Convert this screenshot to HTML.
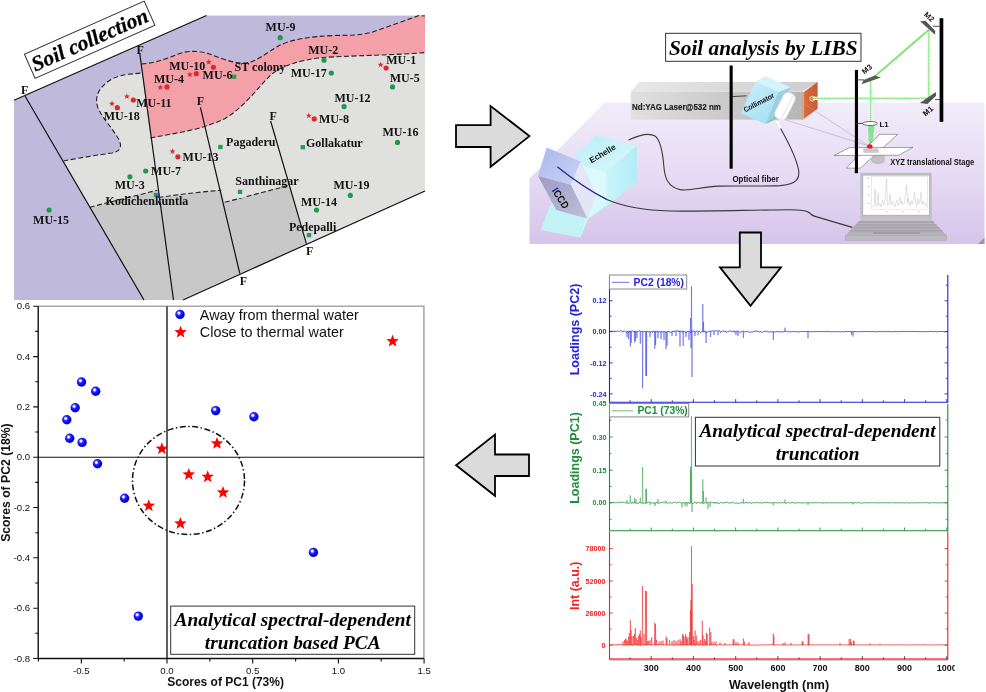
<!DOCTYPE html>
<html lang="en"><head><meta charset="utf-8"><title>Graphical abstract</title>
<style>
html,body{margin:0;padding:0;background:#fff;}
body{width:986px;height:692px;overflow:hidden;font-family:"Liberation Sans",sans-serif;}
svg{display:block;}
svg text{white-space:pre;}
</style></head><body>
<svg width="986" height="692" viewBox="0 0 986 692">
<rect width="986" height="692" fill="#ffffff"/>
<!-- LIBS setup -->
<defs>
<linearGradient id="plat" x1="0" y1="0" x2="0" y2="1"><stop offset="0" stop-color="#f1ecf9"/><stop offset="0.5" stop-color="#e6dcf4"/><stop offset="1" stop-color="#d6c4ea"/></linearGradient>
<linearGradient id="lasf" x1="0" y1="0" x2="1" y2="0"><stop offset="0" stop-color="#e0e0e0"/><stop offset="0.55" stop-color="#cacaca"/><stop offset="1" stop-color="#b6b6b6"/></linearGradient><linearGradient id="last" x1="0" y1="0" x2="1" y2="0"><stop offset="0" stop-color="#e8e8e8"/><stop offset="1" stop-color="#cdcdcd"/></linearGradient>
<linearGradient id="lasf2" x1="0" y1="0" x2="1" y2="0"><stop offset="0" stop-color="#cfcfcf"/><stop offset="1" stop-color="#b4b4b4"/></linearGradient>
<linearGradient id="colf" x1="0" y1="0" x2="0.6" y2="1"><stop offset="0" stop-color="#c8f0fa"/><stop offset="1" stop-color="#a8e0f2"/></linearGradient>
<linearGradient id="echt" x1="0" y1="0" x2="1" y2="1"><stop offset="0" stop-color="#bdeef8"/><stop offset="1" stop-color="#d6f8fb"/></linearGradient>
<linearGradient id="echs" x1="0" y1="0" x2="1" y2="0"><stop offset="0" stop-color="#c8f6fa"/><stop offset="1" stop-color="#b2ecf6"/></linearGradient>
<linearGradient id="iccdt" x1="0" y1="0" x2="1" y2="1"><stop offset="0" stop-color="#a9b8ee"/><stop offset="1" stop-color="#cdd2f2"/></linearGradient>
<linearGradient id="iccdf" x1="0" y1="0" x2="1" y2="1"><stop offset="0" stop-color="#9c9cc4"/><stop offset="1" stop-color="#c0c0d8"/></linearGradient>
<linearGradient id="org" x1="0" y1="0" x2="1" y2="0"><stop offset="0" stop-color="#f08a52"/><stop offset="0.2" stop-color="#d8683a"/><stop offset="1" stop-color="#c85a34"/></linearGradient>
</defs>
<polygon points="604.8,102.5 984.5,102.5 984.5,244 529.5,244 529.5,178.5" fill="url(#plat)"/>
<polygon points="984.5,237.6 984.5,244 978,244" fill="#9a96a4"/>
<polygon points="630.8,91.3 639.3,82 817.6,82 803,91.3" fill="url(#last)"/>
<rect x="630.8" y="91" width="172.4" height="28.6" fill="url(#lasf)"/>

<path d="M630.8,91.3 H803" stroke="#ececec" stroke-width="0.8" fill="none"/>
<text x="632" y="109.6" font-family="'Liberation Sans', sans-serif" font-weight="bold" font-size="9.6px" fill="#222" textLength="89" lengthAdjust="spacingAndGlyphs" stroke="#222" stroke-width="0.2">Nd:YAG Laser@532 nm</text>
<polygon points="802.6,93 817.6,81.8 817.6,108.7 802.6,119.8" fill="url(#org)"/>
<path d="M803.2,93 V119.6" stroke="#f6a878" stroke-width="1"/>
<circle cx="812.4" cy="98.7" r="2.5" fill="#d86a3c" stroke="#f4e6b0" stroke-width="0.9"/>
<path d="M794,97.3 L868.7,145.8 M784.5,119.6 L868.7,145.8" stroke="#aaa6b8" stroke-width="0.55" fill="none"/>
<path d="M812.6,98.4 H928.8 V29.8 L874.6,76.4 M870.7,80.6 V122" fill="none" stroke="#f8f5dc" stroke-width="3.4" stroke-linejoin="round"/>
<path d="M812.6,98.4 H928.8 V29.8 M870.6,80.6 V122" fill="none" stroke="#74e684" stroke-width="1.3" stroke-dasharray="1.4 0.5"/>
<path d="M928.8,29.8 L874.6,76.4" fill="none" stroke="#4ee862" stroke-width="1.3"/>
<polygon points="866.8,125.4 875.6,125.4 873.2,145 868,145" fill="#f1f0dc"/>
<polygon points="867.9,125.4 874.6,125.4 872.4,145 868.8,145" fill="#86e296"/>
<rect x="729.6" y="65.5" width="3.1" height="103.2" fill="#000"/>
<rect x="854.9" y="69.9" width="3.1" height="103.2" fill="#000"/>
<rect x="939.6" y="18.2" width="3.7" height="103.6" fill="#000"/>
<path d="M856,79.9 H864 M933,26.3 H941 M935,99.6 H941 M856,123.4 H863 M732,96.6 L746.5,95.8" stroke="#222" stroke-width="0.8" fill="none"/>
<polygon points="920.2,21.2 925.5,20.7 935.3,31 934.9,34.8" fill="#555"/>
<polygon points="861.6,84.2 863.5,79.9 874.8,75.5 881,77.4" fill="#5a5a5a"/>
<polygon points="919.9,103 935.8,92.1 936.2,95.8 927.4,103.9" fill="#555"/>
<text transform="translate(923.5,15.2) rotate(42)" font-family="'Liberation Sans', sans-serif" font-weight="bold" font-size="7.6px" fill="#111">M2</text>
<text transform="translate(864.6,74.6) rotate(-40)" font-family="'Liberation Sans', sans-serif" font-weight="bold" font-size="7.6px" fill="#111">M3</text>
<text transform="translate(925.6,116.4) rotate(-40)" font-family="'Liberation Sans', sans-serif" font-weight="bold" font-size="7.6px" fill="#111">M1</text>
<ellipse cx="870" cy="123.5" rx="7.3" ry="2" fill="#fff" stroke="#333" stroke-width="0.7"/>
<text x="879.4" y="126.8" font-family="'Liberation Sans', sans-serif" font-weight="bold" font-size="7.8px" fill="#111">L1</text>
<ellipse cx="878" cy="160.6" rx="6.8" ry="3.6" fill="#c4c0c8"/>
<rect x="871.2" y="155" width="13.6" height="5.6" fill="#c4c0c8"/>
<polygon points="879.6,134.3 897.8,134.3 860.4,168.1 846.2,168.1" fill="#fff" stroke="#666" stroke-width="0.6"/>
<polygon points="834,155.5 849.2,147.7 913,147.4 898.8,155.2" fill="#fff" stroke="#666" stroke-width="0.6"/>
<rect x="863.4" y="148.4" width="15.2" height="4.4" fill="#c9c6cc"/>
<rect x="854.9" y="140" width="3.1" height="33.1" fill="#000"/>
<ellipse cx="869.9" cy="146.4" rx="2.7" ry="2.2" fill="#f01020"/>
<text x="890.3" y="164.6" font-family="'Liberation Sans', sans-serif" font-weight="bold" font-size="8.8px" fill="#111" textLength="84" lengthAdjust="spacingAndGlyphs">XYZ translational Stage</text>
<polygon points="755.3,81.7 765.6,76.1 790.6,87.4 778.4,92.2" fill="#d4f4fb"/>
<polygon points="778.4,92.2 790.6,87.4 777.2,118.4 765.6,123.9" fill="#9ccfe0"/>
<polygon points="755.3,81.7 778.4,92.2 765.6,123.9 740.7,113.5" fill="url(#colf)"/>
<polygon points="765.6,123.9 777.2,118.4 775,116" fill="#8ec8a8"/>
<g transform="translate(785,106.2) rotate(27)"><rect x="-6.2" y="-14.2" width="12.4" height="28.4" rx="5" fill="#fff" stroke="#e4e4ea" stroke-width="0.5"/><path d="M2.4,-13.8 V13.8" stroke="#d4d4dc" stroke-width="0.6"/></g>
<path d="M776.8,120.8 L780.8,128.8" stroke="#fff" stroke-width="1.8" fill="none"/>
<text transform="translate(745.2,112.6) rotate(-27.5)" font-family="'Liberation Sans', sans-serif" font-weight="bold" font-size="7.4px" fill="#111" textLength="33.5" lengthAdjust="spacingAndGlyphs">Collimator</text>
<path d="M780.6,128.4 C786,138 796,156 798.6,170 C800,180 795,184.5 780,185.6 C760,186.5 735,185.6 719.6,186.1 C700,186.8 690,191.5 680,189.6 C668,187 665,178 664,168 C663,155 661,140 655,136 C648,132 638,135.5 628.5,140" fill="none" stroke="#3a3a3a" stroke-width="1.1"/>
<text x="732.4" y="181.8" font-family="'Liberation Sans', sans-serif" font-weight="bold" font-size="8.8px" fill="#111" textLength="46.5" lengthAdjust="spacingAndGlyphs">Optical fiber</text>
<polygon points="550.1,205.6 540.6,229.9 580.5,237.7 587.4,219.5 606.5,206.5 606.5,171.8 584.8,166.6" fill="#c4f3f7"/>
<polygon points="580.5,237.7 587.4,219.5 606.5,204 606.5,171.8 594,190" fill="#d6f9fb"/>
<polygon points="584.8,166.6 606.5,171.8 606.5,204 594.3,194.3 580.5,161.4" fill="#dcf9fb"/>
<polygon points="575.3,155.3 596.1,135.4 636.8,145.8 606.5,171.8 584.8,166.6" fill="url(#echt)"/>
<polygon points="636.8,145.8 636.8,182.2 606.5,206.5 606.5,171.8" fill="url(#echs)"/>
<text transform="translate(591.4,163.4) rotate(-30.4)" font-family="'Liberation Sans', sans-serif" font-weight="bold" font-size="8.4px" fill="#111" textLength="29" lengthAdjust="spacingAndGlyphs">Echelle</text>
<polygon points="546.7,147.5 580.5,161.4 570.9,184.8 538,176.1" fill="url(#iccdt)"/>
<polygon points="580.5,161.4 596.5,194.6 587.4,218.6 570.9,184.8" fill="#e2e6f6"/>
<polygon points="538,176.1 570.9,184.8 587.4,218.6 556.2,209.9" fill="url(#iccdf)"/>
<text transform="translate(551.4,190.6) rotate(57.5)" font-family="'Liberation Sans', sans-serif" font-weight="bold" font-size="10.4px" fill="#111" textLength="22.5" lengthAdjust="spacingAndGlyphs"><tspan fill="#1a1ab0">I</tspan>CCD</text>
<path d="M557.4,166.9 C570,177 590,191 607.3,199.8 C625,207 645,210.4 669.7,211 C700,211.6 760,209.8 789.9,209.8 C800,209.8 806,210 809,212.5 C811,214.5 812,215.5 815,216.4 L852.3,227.4" fill="none" stroke="#3a3a3a" stroke-width="1.1"/>
<path d="M557.4,166.9 C570,177 590,191 607.3,199.8" fill="none" stroke="#2a2ab8" stroke-width="1.1"/>
<rect x="860.4" y="172.8" width="71.2" height="45" fill="#b9b7bd"/>
<rect x="861.4" y="173.8" width="69.2" height="43" fill="none" stroke="#c9c7cd" stroke-width="0.6"/>
<rect x="863.2" y="175.6" width="65.8" height="39.2" fill="#fff"/>
<rect x="871.5" y="176.4" width="56" height="32.8" fill="none" stroke="#d4d4d4" stroke-width="0.5"/>
<path d="M872,207.6 L873.4,206 L874.4,204 L875,189.5 L875.8,206.5 L877,205 L878,193 L878.8,206 L880,204 L881,207 L882.6,200 L883.6,205 L884.8,203 L886.6,178.5 L887.6,205.5 L889,203 L890,194 L891,205 L892.4,201 L893.5,204 L895,207 L896.5,200 L897.4,203 L898.4,206 L900,197 L901,204 L902,201 L903,205 L904.5,203 L906.6,185 L907.6,203 L908.4,198 L909.4,206 L911,201 L912,204.5 L913.2,200 L914.6,192.5 L915.6,203 L916.5,206 L917.6,199 L918.5,204 L919.8,202 L921,192.5 L922,204.5 L923.2,201 L924.4,205 L925.4,203.5 L926.6,206.5" fill="none" stroke="#cdbfc4" stroke-width="0.5"/>
<path d="M866.8,177.9 h3.2 M867.4,186.5 h2.6 M867.4,194.9 h2.6 M867.4,203.5 h2.6 M885.2,211.7 h2.6 M901.6,211.7 h2.6 M917.8,211.7 h2.6" stroke="#c4c4c4" stroke-width="0.7" fill="none"/>
<rect x="860.4" y="217.8" width="71.2" height="2.8" fill="#c6c2cc"/>
<polygon points="859.7,220.4 932.2,220.4 946.7,235.5 845.2,235.5" fill="#b5b3b9"/>
<path d="M858.2,222 H933.8 M855.4,224.9 H936.6 M852.6,227.8 H939.4 M849.8,230.7 H942.2" stroke="#a5a3a9" stroke-width="1.5" fill="none"/>
<rect x="873" y="231.8" width="47" height="2" fill="#9f9da3"/>
<rect x="845.2" y="235.5" width="101.5" height="4.9" fill="#bcbac0" stroke="#a3a1a7" stroke-width="0.5"/>
<rect x="665.6" y="33.3" width="195.4" height="28" fill="#fff" stroke="#333" stroke-width="1"/>
<text x="763.3" y="54.9" text-anchor="middle" font-family="'Liberation Serif', serif" font-weight="bold" font-style="italic" font-size="21.3px" fill="#000">Soil analysis by LIBS</text>
<!-- map -->
<defs><clipPath id="mapclip"><polygon points="14,100.2 206.5,15.5 425,15.5 425,191 183,300 14,300"/></clipPath></defs>
<g clip-path="url(#mapclip)">
<rect x="0" y="0" width="450" height="310" fill="#bfb9dc"/>
<path d="M63.5,161 C78,158 98,155 112,153 C121,151.5 122,146 119,140 C114,130 103,119 98,108 C94.5,99 98,90 104,85 C110,79 118,75.5 128,74.3 L142,73 L150.6,138 C175,133 202,130 225,118.5 C243,108 256,90 270.6,75 C282,65.5 300,60 323,57.5 C345,55.8 400,55 425,52.5 L425,191 L183,300 L144,300 Z" fill="#e0e0df"/>
<path d="M141.5,64 C153,63.2 164,60 175,55.2 C184,51 196,50 208,53.6 C220,57.5 233,64 246,63 C258,61 266,53 277.5,46.5 C290,39.5 310,36.5 334,35.5 C348,35.2 360,35.6 372,32.2 C388,26.5 404,21 419,15.5 L425,15.5 L425,52.5 C400,55 345,55.8 323,57.5 C300,60 282,65.5 270.6,75 C256,90 243,108 225,118.5 C202,130 175,133 150.6,138 Z" fill="#f4a0a8"/>
<path d="M89.7,207.2 L157.4,190.2 L158.4,197.5 Q190,192.8 221.2,190.2 L224.8,202.3 L289.4,185.3 L306.4,243.7 L183,300 L144,300 Z" fill="#c8c8c8"/>
</g>
<path d="M141.5,64 C153,63.2 164,60 175,55.2 C184,51 196,50 208,53.6 C220,57.5 233,64 246,63 C258,61 266,53 277.5,46.5 C290,39.5 310,36.5 334,35.5 C348,35.2 360,35.6 372,32.2 C388,26.5 404,21 419,15.5 L425,16" fill="none" stroke="#222" stroke-width="1.1" stroke-dasharray="5 2.5"/>
<path d="M150.6,138 C175,133 202,130 225,118.5 C243,108 256,90 270.6,75 C282,65.5 300,60 323,57.5 C345,55.8 400,55 425,52.5" fill="none" stroke="#222" stroke-width="1.1" stroke-dasharray="5 2.5"/>
<path d="M63.5,161 C78,158 98,155 112,153 C121,151.5 122,146 119,140 C114,130 103,119 98,108 C94.5,99 98,90 104,85 C110,79 118,75.5 128,74.3 L142,73" fill="none" stroke="#222" stroke-width="1.1" stroke-dasharray="5 2.5"/>
<path d="M89.7,207.2 L157.4,190.2 M158.4,197.5 Q190,192.8 221.2,190.2 M224.8,202.3 L289.4,185.3" fill="none" stroke="#222" stroke-width="1.1" stroke-dasharray="5 2.5"/>
<path d="M14,100.2 L206.5,15.5" fill="none" stroke="#111" stroke-width="1.2"/>
<path d="M425,191 L183,300" fill="none" stroke="#111" stroke-width="1.2"/>
<path d="M25,96 L144,300 M139.7,53 L173.5,300 M200.4,107.3 L239.8,273.5 M270.6,121 L306.4,243.7" fill="none" stroke="#111" stroke-width="1.2"/>
<circle cx="280.2" cy="37.7" r="2.6" fill="#1f9a4a"/>
<circle cx="324" cy="60.2" r="2.6" fill="#1f9a4a"/>
<circle cx="331.3" cy="73" r="2.6" fill="#1f9a4a"/>
<circle cx="392.5" cy="86.9" r="2.6" fill="#1f9a4a"/>
<circle cx="344.1" cy="106.6" r="2.6" fill="#1f9a4a"/>
<circle cx="397.5" cy="142.4" r="2.6" fill="#1f9a4a"/>
<circle cx="129.9" cy="176.8" r="2.6" fill="#1f9a4a"/>
<circle cx="145.7" cy="171" r="2.6" fill="#1f9a4a"/>
<circle cx="49.1" cy="210" r="2.6" fill="#1f9a4a"/>
<circle cx="350.3" cy="195.4" r="2.6" fill="#1f9a4a"/>
<circle cx="316.5" cy="210" r="2.6" fill="#1f9a4a"/>
<circle cx="213.4" cy="67.3" r="2.6" fill="#e0282a"/>
<polygon points="208.80,58.90 209.55,61.06 211.84,61.11 210.02,62.50 210.68,64.69 208.80,63.38 206.92,64.69 207.58,62.50 205.76,61.11 208.05,61.06" fill="#e0282a"/>
<circle cx="196.3" cy="73.7" r="2.6" fill="#e0282a"/>
<polygon points="189.90,71.40 190.65,73.56 192.94,73.61 191.12,75.00 191.78,77.19 189.90,75.88 188.02,77.19 188.68,75.00 186.86,73.61 189.15,73.56" fill="#e0282a"/>
<circle cx="167" cy="86.9" r="2.6" fill="#e0282a"/>
<polygon points="160.40,84.20 161.15,86.36 163.44,86.41 161.62,87.80 162.28,89.99 160.40,88.68 158.52,89.99 159.18,87.80 157.36,86.41 159.65,86.36" fill="#e0282a"/>
<circle cx="133.3" cy="100" r="2.6" fill="#e0282a"/>
<polygon points="126.90,93.30 127.65,95.46 129.94,95.51 128.12,96.90 128.78,99.09 126.90,97.78 125.02,99.09 125.68,96.90 123.86,95.51 126.15,95.46" fill="#e0282a"/>
<circle cx="117.3" cy="107.7" r="2.6" fill="#e0282a"/>
<polygon points="112.00,100.60 112.75,102.76 115.04,102.81 113.22,104.20 113.88,106.39 112.00,105.08 110.12,106.39 110.78,104.20 108.96,102.81 111.25,102.76" fill="#e0282a"/>
<circle cx="386.1" cy="68" r="2.6" fill="#e0282a"/>
<polygon points="380.60,61.60 381.35,63.76 383.64,63.81 381.82,65.20 382.48,67.39 380.60,66.08 378.72,67.39 379.38,65.20 377.56,63.81 379.85,63.76" fill="#e0282a"/>
<circle cx="314.2" cy="118.9" r="2.6" fill="#e0282a"/>
<polygon points="308.80,112.50 309.55,114.66 311.84,114.71 310.02,116.10 310.68,118.29 308.80,116.98 306.92,118.29 307.58,116.10 305.76,114.71 308.05,114.66" fill="#e0282a"/>
<circle cx="177.9" cy="156.8" r="2.6" fill="#e0282a"/>
<polygon points="172.50,148.30 173.25,150.46 175.54,150.51 173.72,151.90 174.38,154.09 172.50,152.78 170.62,154.09 171.28,151.90 169.46,150.51 171.75,150.46" fill="#e0282a"/>
<circle cx="304.1" cy="149.5" r="3.9" fill="#dddcf3"/>
<rect x="300.6" y="145.1" width="4.4" height="4.2" fill="#22a043"/>
<circle cx="221.7" cy="149.3" r="3.9" fill="#dddcf3"/>
<rect x="218.2" y="144.9" width="4.4" height="4.2" fill="#22a043"/>
<circle cx="241.3" cy="194.2" r="3.9" fill="#dddcf3"/>
<rect x="237.8" y="189.8" width="4.4" height="4.2" fill="#22a043"/>
<circle cx="310.3" cy="237.4" r="3.9" fill="#dddcf3"/>
<rect x="306.8" y="233.0" width="4.4" height="4.2" fill="#22a043"/>
<rect x="231.9" y="74.6" width="4.4" height="4.2" fill="#22a043"/>
<rect x="153.8" y="192.9" width="4.4" height="4.2" fill="#22a043"/>
<rect x="158" y="193.5" width="1.6" height="4.6" fill="#2a2ae0"/>
<g font-family="'Liberation Serif', serif" font-weight="bold" font-size="12px" fill="#111">
<text x="21" y="93.6">F</text>
<text x="136.5" y="54.3">F</text>
<text x="196.7" y="105">F</text>
<text x="269.5" y="119.8">F</text>
<text x="306" y="255">F</text>
<text x="239.8" y="285.1">F</text>
<text x="169.3" y="69.6">MU-10</text>
<text x="154" y="83.3">MU-4</text>
<text x="202.6" y="78.7">MU-6</text>
<text x="136.2" y="107.3">MU-11</text>
<text x="103.8" y="120.3">MU-18</text>
<text x="265.6" y="30.8">MU-9</text>
<text x="308.3" y="53.6">MU-2</text>
<text x="234.6" y="71.4">ST colony</text>
<text x="290.7" y="76.9">MU-17</text>
<text x="386.3" y="63.9">MU-1</text>
<text x="389.8" y="82.2">MU-5</text>
<text x="334.5" y="102.2">MU-12</text>
<text x="319" y="122.5">MU-8</text>
<text x="382.5" y="135.8">MU-16</text>
<text x="226.1" y="145.6">Pagaderu</text>
<text x="306" y="147.2">Gollakatur</text>
<text x="182.6" y="160.7">MU-13</text>
<text x="151.1" y="175.1">MU-7</text>
<text x="114.8" y="189.4">MU-3</text>
<text x="105.6" y="204.6">Kodichenkuntla</text>
<text x="33.1" y="223.5">MU-15</text>
<text x="235.3" y="185.4">Santhinagar</text>
<text x="333.4" y="189.3">MU-19</text>
<text x="301" y="205.9">MU-14</text>
<text x="288.9" y="231">Pedepalli</text>
</g>
<g transform="translate(89.5,39.4) rotate(-23.9)">
<rect x="-65.5" y="-12.8" width="131" height="26.4" fill="#fff" stroke="#333" stroke-width="1"/>
<text x="0" y="7.5" text-anchor="middle" font-family="'Liberation Serif', serif" font-weight="bold" font-style="italic" font-size="21.4px" fill="#000" stroke="#000" stroke-width="0.25">Soil collection</text>
</g>
<!-- scatter -->
<defs><radialGradient id="ball" cx="0.38" cy="0.36" r="0.72"><stop offset="0" stop-color="#ffffff"/><stop offset="0.14" stop-color="#e4e8ff"/><stop offset="0.32" stop-color="#2a2aff"/><stop offset="0.7" stop-color="#0000ee"/><stop offset="1" stop-color="#0000a8"/></radialGradient></defs>
<rect x="38.2" y="306.3" width="385.7" height="352.2" fill="#fff"/>
<path d="M38.2,306.3 H423.9 V658.5" fill="none" stroke="#a8a8a8" stroke-width="1.6"/>
<path d="M38.2,457.2 H423.9" fill="none" stroke="#111" stroke-width="1.1"/>
<path d="M167.0,306.3 V658.5" fill="none" stroke="#383838" stroke-width="1.6"/>
<path d="M38.2,306.3 V658.5 H423.9" fill="none" stroke="#111" stroke-width="1.4"/>
<path d="M38.2,306.2 h-5 M38.2,331.4 h-3 M38.2,356.6 h-5 M38.2,381.7 h-3 M38.2,406.9 h-5 M38.2,432.0 h-3 M38.2,457.2 h-5 M38.2,482.4 h-3 M38.2,507.5 h-5 M38.2,532.7 h-3 M38.2,557.8 h-5 M38.2,583.0 h-3 M38.2,608.2 h-5 M38.2,633.3 h-3 M38.2,658.5 h-5 M81.3,658.5 v5 M167.0,658.5 v5 M252.7,658.5 v5 M338.4,658.5 v5 M424.1,658.5 v5 M38.4,658.5 v3 M124.2,658.5 v3 M209.8,658.5 v3 M295.6,658.5 v3 M381.2,658.5 v3" fill="none" stroke="#111" stroke-width="1.1"/>
<g font-family="'Liberation Sans', sans-serif" font-size="9.6px" fill="#111">
<text x="30.2" y="309.2" text-anchor="end">0.6</text>
<text x="30.2" y="359.6" text-anchor="end">0.4</text>
<text x="30.2" y="409.9" text-anchor="end">0.2</text>
<text x="30.2" y="460.2" text-anchor="end">0.0</text>
<text x="30.2" y="510.5" text-anchor="end">-0.2</text>
<text x="30.2" y="560.8" text-anchor="end">-0.4</text>
<text x="30.2" y="611.2" text-anchor="end">-0.6</text>
<text x="30.2" y="661.5" text-anchor="end">-0.8</text>
<text x="81.3" y="673.7" text-anchor="middle">-0.5</text>
<text x="167.0" y="673.7" text-anchor="middle">0.0</text>
<text x="252.7" y="673.7" text-anchor="middle">0.5</text>
<text x="338.4" y="673.7" text-anchor="middle">1.0</text>
<text x="424.1" y="673.7" text-anchor="middle">1.5</text>
</g>
<text transform="translate(10.4,482.6) rotate(-90)" text-anchor="middle" font-family="'Liberation Sans', sans-serif" font-weight="bold" font-size="12.2px" fill="#111">Scores of PC2 (18%)</text>
<text x="225.6" y="686" text-anchor="middle" font-family="'Liberation Sans', sans-serif" font-weight="bold" font-size="12px" fill="#111">Scores of PC1 (73%)</text>
<ellipse cx="188.5" cy="480.5" rx="56" ry="54" fill="none" stroke="#111" stroke-width="1.5" stroke-dasharray="6 2.5 1.5 2.5"/>
<circle cx="81.5" cy="382" r="4.7" fill="url(#ball)"/>
<circle cx="95.7" cy="391.2" r="4.7" fill="url(#ball)"/>
<circle cx="75.2" cy="407.7" r="4.7" fill="url(#ball)"/>
<circle cx="66.8" cy="419.8" r="4.7" fill="url(#ball)"/>
<circle cx="69.7" cy="438.3" r="4.7" fill="url(#ball)"/>
<circle cx="82.1" cy="442.4" r="4.7" fill="url(#ball)"/>
<circle cx="97.5" cy="463.8" r="4.7" fill="url(#ball)"/>
<circle cx="124.6" cy="498.2" r="4.7" fill="url(#ball)"/>
<circle cx="215.7" cy="410.6" r="4.7" fill="url(#ball)"/>
<circle cx="253.9" cy="416.7" r="4.7" fill="url(#ball)"/>
<circle cx="313.4" cy="552.4" r="4.7" fill="url(#ball)"/>
<circle cx="138.3" cy="616.1" r="4.7" fill="url(#ball)"/>
<polygon points="392.60,334.60 394.23,338.96 398.88,339.16 395.24,342.06 396.48,346.54 392.60,343.97 388.72,346.54 389.96,342.06 386.32,339.16 390.97,338.96" fill="#ff0000"/>
<polygon points="161.90,442.20 163.53,446.56 168.18,446.76 164.54,449.66 165.78,454.14 161.90,451.57 158.02,454.14 159.26,449.66 155.62,446.76 160.27,446.56" fill="#ff0000"/>
<polygon points="217.00,436.90 218.63,441.26 223.28,441.46 219.64,444.36 220.88,448.84 217.00,446.27 213.12,448.84 214.36,444.36 210.72,441.46 215.37,441.26" fill="#ff0000"/>
<polygon points="188.80,468.00 190.43,472.36 195.08,472.56 191.44,475.46 192.68,479.94 188.80,477.37 184.92,479.94 186.16,475.46 182.52,472.56 187.17,472.36" fill="#ff0000"/>
<polygon points="207.70,470.30 209.33,474.66 213.98,474.86 210.34,477.76 211.58,482.24 207.70,479.67 203.82,482.24 205.06,477.76 201.42,474.86 206.07,474.66" fill="#ff0000"/>
<polygon points="223.00,486.00 224.63,490.36 229.28,490.56 225.64,493.46 226.88,497.94 223.00,495.37 219.12,497.94 220.36,493.46 216.72,490.56 221.37,490.36" fill="#ff0000"/>
<polygon points="148.80,499.20 150.43,503.56 155.08,503.76 151.44,506.66 152.68,511.14 148.80,508.57 144.92,511.14 146.16,506.66 142.52,503.76 147.17,503.56" fill="#ff0000"/>
<polygon points="180.40,517.00 182.03,521.36 186.68,521.56 183.04,524.46 184.28,528.94 180.40,526.37 176.52,528.94 177.76,524.46 174.12,521.56 178.77,521.36" fill="#ff0000"/>
<circle cx="180" cy="314.4" r="4.7" fill="url(#ball)"/>
<polygon points="180.60,325.70 182.23,330.06 186.88,330.26 183.24,333.16 184.48,337.64 180.60,335.07 176.72,337.64 177.96,333.16 174.32,330.26 178.97,330.06" fill="#ff0000"/>
<g font-family="'Liberation Sans', sans-serif" font-size="14.4px" fill="#111">
<text x="199.8" y="319.5">Away from thermal water</text>
<text x="199.8" y="336.5">Close to thermal water</text>
</g>
<rect x="170.7" y="606.1" width="244" height="48.2" fill="#fff" stroke="#333" stroke-width="1"/>
<g font-family="'Liberation Serif', serif" font-weight="bold" font-style="italic" font-size="19.3px" fill="#000" text-anchor="middle">
<text x="292.7" y="625.7">Analytical spectral-dependent</text>
<text x="292.7" y="649">truncation based PCA</text>
</g>
<!-- spectra -->
<rect x="609.5" y="275.0" width="338.29999999999995" height="384.4" fill="#fff"/>
<path d="M609.5,331.6 L612.5,331.3 L613.3,331.0 L614.1,331.9 L614.9,330.8 L615.7,331.7 L616.5,331.4 L617.3,330.8 L618.1,331.6 L618.9,330.8 L619.7,331.5 L620.5,330.8 L621.3,330.9 L622.1,331.5 L622.9,332.2 L623.7,330.9 L624.5,331.1 L625.3,331.8 L626.1,332.4 L626.9,331.7 L627.7,331.4 L628.5,332.5 L629.3,330.8 L630.1,332.2 L630.9,331.2 L631.7,331.0 L632.5,330.9 L633.3,331.3 L634.1,332.2 L634.9,331.0 L635.7,331.7 L636.5,331.9 L637.3,331.4 L638.1,331.7 L638.9,330.8 L639.7,330.8 L640.5,331.1 L641.3,331.9 L642.1,331.5 L642.9,331.3 L643.7,331.8 L644.5,331.5 L645.3,331.2 L646.1,332.1 L646.9,332.0 L647.7,331.1 L648.5,331.7 L649.3,331.6 L650.1,332.3 L650.9,332.0 L651.7,331.2 L652.5,332.5 L653.3,330.9 L654.1,331.5 L654.9,332.1 L655.7,331.0 L656.5,331.6 L657.3,330.8 L658.1,331.9 L658.9,332.1 L659.7,331.7 L660.5,332.3 L661.3,331.3 L662.1,332.0 L662.9,331.8 L663.7,331.7 L664.5,331.5 L665.3,332.2 L666.1,332.4 L666.9,331.6 L667.7,331.9 L668.5,330.8 L669.3,332.0 L670.1,331.9 L670.9,332.5 L671.7,332.2 L672.5,331.2 L673.3,331.4 L674.1,331.9 L674.9,330.7 L675.7,331.5 L676.5,331.0 L677.3,330.9 L678.1,330.8 L678.9,332.1 L679.7,330.9 L680.5,331.1 L681.3,331.4 L682.1,332.3 L682.9,330.8 L683.7,331.5 L684.5,331.7 L685.3,332.3 L686.1,332.2 L686.9,332.3 L687.7,331.2 L688.5,331.4 L689.3,331.3 L690.1,332.3 L690.9,332.4 L691.7,331.0 L692.5,331.0 L693.3,331.1 L694.1,331.1 L694.9,331.6 L695.7,331.8 L696.5,331.2 L697.3,330.7 L698.1,331.5 L698.9,331.4 L699.7,331.7 L700.5,332.4 L701.3,331.9 L702.1,331.6 L702.9,331.8 L703.7,331.9 L704.5,330.8 L705.3,332.3 L706.1,332.1 L706.9,332.3 L707.7,332.1 L708.5,331.4 L709.3,331.4 L710.1,330.9 L710.9,331.8 L711.7,330.8 L712.5,330.8 L713.3,331.1 L714.1,331.0 L714.9,331.3 L715.7,330.8 L716.5,330.7 L717.3,331.0 L718.1,330.9 L718.9,331.4 L719.7,330.7 L720.5,332.3 L721.3,331.8 L722.1,331.0 L722.9,331.2 L723.7,331.3 L724.5,331.4 L725.3,331.0 L726.1,332.2 L726.9,332.4 L727.7,331.5 L728.5,331.6 L729.3,330.9 L730.1,330.9 L730.9,331.3 L731.7,331.2 L732.5,332.1 L733.3,331.1 L734.1,330.8 L734.9,332.3 L735.7,331.6 L736.5,331.1 L737.3,331.7 L738.1,330.9 L738.9,331.6 L739.7,332.3 L740.5,332.1 L741.3,331.9 L742.1,331.2 L742.9,331.4 L743.7,331.1 L744.5,332.0 L745.3,331.6 L746.1,332.0 L746.9,331.4 L747.7,331.2 L748.5,332.0 L749.3,332.3 L750.1,332.1 L750.9,332.0 L751.7,332.0 L752.5,331.9 L753.3,331.2 L754.1,331.6 L754.9,331.4 L755.7,331.0 L756.5,331.0 L757.3,331.3 L758.1,331.3 L758.9,331.8 L759.7,332.1 L760.5,331.5 L761.3,332.1 L762.1,332.2 L762.9,332.1 L763.7,331.4 L764.5,331.3 L765.3,331.3 L766.1,331.3 L766.9,331.3 L767.7,331.7 L768.5,332.0 L769.3,332.0 L770.1,331.6 L770.9,331.8 L771.7,331.9 L772.5,331.2 L773.3,331.8 L774.1,332.0 L774.9,331.9 L775.7,331.8 L776.5,331.6 L777.3,331.3 L778.1,331.9 L778.9,331.4 L779.7,331.9 L780.5,332.0 L781.3,331.5 L782.1,331.5 L782.9,332.0 L783.7,331.8 L784.5,331.3 L785.3,331.3 L786.1,331.3 L786.9,331.9 L787.7,331.8 L788.5,331.3 L789.3,331.8 L790.1,332.0 L790.9,331.7 L791.7,331.5 L792.5,331.6 L793.3,331.3 L794.1,331.3 L794.9,331.9 L795.7,331.7 L796.5,331.6 L797.3,331.9 L798.1,331.6 L798.9,331.8 L799.7,331.8 L800.5,331.4 L801.3,331.5 L802.1,331.5 L802.9,331.5 L803.7,331.6 L804.5,331.5 L805.3,331.6 L806.1,331.4 L806.9,331.8 L807.7,331.5 L808.5,331.6 L809.3,331.6 L810.1,331.8 L810.9,331.6 L811.7,331.8 L812.5,331.6 L813.3,331.6 L814.1,331.6 L814.9,331.4 L815.7,331.6 L816.5,331.5 L817.3,331.4 L818.1,331.7 L818.9,331.5 L819.7,331.6 L820.5,331.7 L821.3,331.6 L822.1,331.5 L822.9,331.6 L823.7,331.6 L824.5,331.7 L825.3,331.4 L826.1,331.6 L826.9,331.5 L827.7,331.5 L828.5,331.7 L829.3,331.6 L830.1,331.6 L830.9,331.7 L831.7,331.8 L832.5,331.6 L833.3,331.7 L834.1,331.6 L834.9,331.6 L835.7,331.7 L836.5,331.6 L837.3,331.6 L838.1,331.6 L838.9,331.8 L839.7,331.7 L840.5,331.8 L841.3,331.8 L842.1,331.5 L842.9,331.6 L843.7,331.8 L844.5,331.8 L845.3,331.4 L846.1,331.4 L846.9,331.6 L847.7,331.4 L848.5,331.5 L849.3,331.4 L850.1,331.7 L850.9,331.7 L851.7,331.8 L852.5,331.4 L853.3,331.7 L854.1,331.7 L854.9,331.4 L855.7,331.8 L856.5,331.8 L857.3,331.5 L858.1,331.8 L858.9,331.6 L859.7,331.6 L860.5,331.8 L861.3,331.7 L862.1,331.4 L862.9,331.6 L863.7,331.6 L864.5,331.5 L865.3,331.5 L866.1,331.5 L866.9,331.7 L867.7,331.4 L868.5,331.6 L869.3,331.6 L870.1,331.4 L870.9,331.5 L871.7,331.7 L872.5,331.6 L873.3,331.4 L874.1,331.8 L874.9,331.7 L875.7,331.8 L876.5,331.4 L877.3,331.5 L878.1,331.4 L878.9,331.7 L879.7,331.5 L880.5,331.4 L881.3,331.6 L882.1,331.8 L882.9,331.7 L883.7,331.5 L884.5,331.4 L885.3,331.8 L886.1,331.6 L886.9,331.7 L887.7,331.4 L888.5,331.4 L889.3,331.7 L890.1,331.6 L890.9,331.4 L891.7,331.8 L892.5,331.7 L893.3,331.7 L894.1,331.4 L894.9,331.8 L895.7,331.4 L896.5,331.8 L897.3,331.6 L898.1,331.5 L898.9,331.6 L899.7,331.8 L900.5,331.5 L901.3,331.4 L902.1,331.6 L902.9,331.5 L903.7,331.4 L904.5,331.4 L905.3,331.4 L906.1,331.5 L906.9,331.5 L907.7,331.5 L908.5,331.7 L909.3,331.5 L910.1,331.6 L910.9,331.5 L911.7,331.5 L912.5,331.4 L913.3,331.5 L914.1,331.4 L914.9,331.7 L915.7,331.6 L916.5,331.5 L917.3,331.6 L918.1,331.8 L918.9,331.4 L919.7,331.7 L920.5,331.6 L921.3,331.6 L922.1,331.8 L922.9,331.6 L923.7,331.6 L924.5,331.7 L925.3,331.8 L926.1,331.5 L926.9,331.7 L927.7,331.7 L928.5,331.7 L929.3,331.6 L930.1,331.5 L930.9,331.4 L931.7,331.4 L932.5,331.4 L933.3,331.7 L934.1,331.5 L934.9,331.4 L935.7,331.4 L936.5,331.8 L937.3,331.8 L938.1,331.7 L938.9,331.5 L939.7,331.5 L940.5,331.5 L941.3,331.6 L942.1,331.4 L942.9,331.6 L943.7,331.5 L944.5,331.8 L945.3,331.8 L946.1,331.6 L946.9,331.5 L947.7,331.8" fill="none" stroke="#2222dd" stroke-width="0.9" opacity="0.9"/>
<path d="M642.30,331.6 L642.60,388.3 L642.90,331.6 M645.60,331.6 L645.90,376.0 L646.20,331.6 M646.20,331.6 L646.50,376.0 L646.80,331.6 M630.00,331.6 L630.30,346.6 L630.60,331.6 M630.90,331.6 L631.20,343.0 L631.50,331.6 M634.40,331.6 L634.70,342.6 L635.00,331.6 M635.20,331.6 L635.50,341.0 L635.80,331.6 M640.00,331.6 L640.30,343.7 L640.60,331.6 M654.50,331.6 L654.80,348.8 L655.10,331.6 M655.30,331.6 L655.60,345.0 L655.90,331.6 M665.70,331.6 L666.00,349.2 L666.30,331.6 M666.80,331.6 L667.10,345.5 L667.40,331.6 M679.70,331.6 L680.00,346.6 L680.30,331.6 M682.90,331.6 L683.20,345.9 L683.50,331.6 M688.70,331.6 L689.00,340.0 L689.30,331.6 M690.20,331.6 L690.50,318.0 L690.80,331.6 M691.20,331.6 L691.50,286.3 L691.80,331.6 M691.70,331.6 L692.00,377.1 L692.30,331.6 M690.70,331.6 L691.00,348.0 L691.30,331.6 M702.50,331.6 L702.80,304.0 L703.10,331.6 M703.20,331.6 L703.50,322.0 L703.80,331.6 M705.80,331.6 L706.10,343.0 L706.40,331.6 M710.30,331.6 L710.60,337.0 L710.90,331.6 M743.10,331.6 L743.40,338.0 L743.70,331.6 M773.00,331.6 L773.30,339.9 L773.60,331.6 M784.70,331.6 L785.00,327.6 L785.30,331.6 M807.70,331.6 L808.00,338.2 L808.30,331.6 M852.70,331.6 L853.00,336.5 L853.30,331.6 M851.20,331.6 L851.50,335.0 L851.80,331.6 M626.70,331.6 L627.00,337.0 L627.30,331.6 M628.20,331.6 L628.50,339.0 L628.80,331.6 M636.70,331.6 L637.00,338.0 L637.30,331.6 M649.70,331.6 L650.00,337.0 L650.30,331.6 M657.70,331.6 L658.00,338.0 L658.30,331.6 M660.70,331.6 L661.00,339.0 L661.30,331.6 M663.70,331.6 L664.00,340.0 L664.30,331.6 M671.70,331.6 L672.00,336.0 L672.30,331.6 M675.70,331.6 L676.00,336.0 L676.30,331.6 M685.70,331.6 L686.00,337.0 L686.30,331.6 M694.70,331.6 L695.00,336.0 L695.30,331.6 M697.70,331.6 L698.00,335.0 L698.30,331.6 M713.70,331.6 L714.00,335.0 L714.30,331.6 M717.70,331.6 L718.00,335.0 L718.30,331.6 M735.70,331.6 L736.00,335.0 L736.30,331.6 M737.70,331.6 L738.00,336.0 L738.30,331.6" fill="none" stroke="#3a3ae0" stroke-width="0.65" opacity="0.75"/>
<path d="M609.5,502.8 L612.5,502.5 L613.3,502.6 L614.1,502.0 L614.9,502.6 L615.7,502.8 L616.5,502.8 L617.3,502.3 L618.1,502.8 L618.9,502.0 L619.7,502.4 L620.5,502.1 L621.3,502.6 L622.1,502.1 L622.9,502.0 L623.7,502.5 L624.5,502.4 L625.3,502.9 L626.1,502.8 L626.9,503.2 L627.7,503.1 L628.5,503.1 L629.3,503.4 L630.1,502.6 L630.9,502.5 L631.7,503.6 L632.5,502.2 L633.3,503.2 L634.1,503.0 L634.9,502.1 L635.7,503.3 L636.5,503.4 L637.3,503.0 L638.1,503.2 L638.9,503.3 L639.7,502.2 L640.5,502.8 L641.3,502.8 L642.1,503.3 L642.9,503.3 L643.7,503.3 L644.5,502.9 L645.3,503.4 L646.1,503.1 L646.9,503.1 L647.7,502.4 L648.5,502.0 L649.3,502.2 L650.1,502.6 L650.9,502.2 L651.7,503.3 L652.5,502.9 L653.3,503.0 L654.1,503.0 L654.9,503.1 L655.7,502.8 L656.5,502.0 L657.3,503.3 L658.1,503.2 L658.9,502.8 L659.7,502.9 L660.5,503.1 L661.3,502.1 L662.1,503.2 L662.9,502.4 L663.7,502.1 L664.5,502.4 L665.3,503.2 L666.1,502.3 L666.9,503.2 L667.7,503.6 L668.5,502.8 L669.3,502.6 L670.1,502.8 L670.9,503.1 L671.7,503.2 L672.5,503.0 L673.3,503.0 L674.1,502.1 L674.9,502.2 L675.7,502.4 L676.5,503.2 L677.3,502.5 L678.1,502.9 L678.9,502.0 L679.7,502.1 L680.5,502.4 L681.3,503.1 L682.1,503.1 L682.9,503.1 L683.7,502.5 L684.5,502.8 L685.3,502.7 L686.1,502.7 L686.9,502.2 L687.7,503.4 L688.5,502.3 L689.3,503.6 L690.1,503.5 L690.9,502.0 L691.7,502.7 L692.5,503.3 L693.3,503.5 L694.1,502.7 L694.9,502.4 L695.7,502.3 L696.5,503.5 L697.3,502.3 L698.1,502.9 L698.9,502.2 L699.7,502.8 L700.5,503.5 L701.3,502.2 L702.1,503.3 L702.9,502.8 L703.7,503.4 L704.5,503.1 L705.3,502.4 L706.1,503.4 L706.9,502.8 L707.7,502.0 L708.5,502.0 L709.3,502.8 L710.1,502.7 L710.9,502.5 L711.7,502.2 L712.5,502.6 L713.3,502.5 L714.1,503.3 L714.9,502.0 L715.7,503.2 L716.5,503.3 L717.3,502.2 L718.1,503.5 L718.9,503.1 L719.7,503.4 L720.5,502.5 L721.3,502.6 L722.1,502.6 L722.9,503.6 L723.7,502.9 L724.5,502.6 L725.3,502.7 L726.1,502.5 L726.9,502.1 L727.7,502.2 L728.5,503.3 L729.3,502.5 L730.1,503.4 L730.9,502.4 L731.7,502.5 L732.5,502.8 L733.3,502.4 L734.1,502.6 L734.9,503.4 L735.7,503.3 L736.5,503.2 L737.3,503.0 L738.1,503.4 L738.9,503.4 L739.7,502.9 L740.5,503.1 L741.3,502.2 L742.1,503.1 L742.9,502.7 L743.7,503.1 L744.5,503.0 L745.3,502.5 L746.1,502.2 L746.9,503.3 L747.7,502.3 L748.5,502.8 L749.3,502.6 L750.1,502.6 L750.9,503.1 L751.7,503.4 L752.5,502.5 L753.3,503.0 L754.1,502.6 L754.9,502.9 L755.7,502.7 L756.5,502.4 L757.3,502.4 L758.1,502.5 L758.9,503.2 L759.7,502.8 L760.5,502.5 L761.3,503.2 L762.1,503.3 L762.9,502.7 L763.7,502.4 L764.5,502.5 L765.3,502.4 L766.1,502.6 L766.9,502.4 L767.7,502.5 L768.5,502.6 L769.3,502.9 L770.1,503.2 L770.9,503.0 L771.7,502.7 L772.5,502.7 L773.3,502.8 L774.1,502.7 L774.9,502.7 L775.7,502.4 L776.5,502.6 L777.3,503.2 L778.1,502.5 L778.9,502.8 L779.7,502.9 L780.5,503.1 L781.3,502.6 L782.1,502.6 L782.9,502.6 L783.7,502.7 L784.5,502.8 L785.3,503.1 L786.1,503.1 L786.9,503.1 L787.7,502.5 L788.5,502.5 L789.3,502.9 L790.1,503.1 L790.9,502.8 L791.7,502.9 L792.5,502.5 L793.3,502.7 L794.1,503.1 L794.9,503.0 L795.7,503.0 L796.5,503.1 L797.3,502.7 L798.1,502.6 L798.9,502.6 L799.7,502.8 L800.5,502.9 L801.3,503.0 L802.1,502.9 L802.9,502.9 L803.7,502.9 L804.5,502.8 L805.3,502.8 L806.1,502.6 L806.9,502.9 L807.7,502.7 L808.5,503.0 L809.3,502.9 L810.1,502.7 L810.9,502.7 L811.7,502.7 L812.5,502.9 L813.3,502.9 L814.1,502.6 L814.9,502.6 L815.7,502.8 L816.5,502.8 L817.3,502.8 L818.1,502.7 L818.9,502.8 L819.7,502.6 L820.5,502.7 L821.3,502.8 L822.1,503.0 L822.9,502.9 L823.7,503.0 L824.5,502.8 L825.3,502.7 L826.1,502.7 L826.9,503.0 L827.7,502.9 L828.5,502.7 L829.3,502.6 L830.1,502.8 L830.9,502.9 L831.7,502.8 L832.5,502.7 L833.3,502.9 L834.1,503.0 L834.9,502.7 L835.7,502.6 L836.5,502.7 L837.3,502.8 L838.1,502.9 L838.9,502.7 L839.7,502.9 L840.5,502.9 L841.3,502.8 L842.1,502.7 L842.9,503.0 L843.7,502.7 L844.5,502.9 L845.3,502.7 L846.1,502.7 L846.9,502.9 L847.7,502.7 L848.5,503.0 L849.3,502.8 L850.1,502.7 L850.9,502.7 L851.7,502.8 L852.5,502.9 L853.3,503.0 L854.1,502.7 L854.9,502.8 L855.7,502.7 L856.5,503.0 L857.3,502.7 L858.1,502.6 L858.9,502.6 L859.7,502.8 L860.5,503.0 L861.3,503.0 L862.1,502.9 L862.9,503.0 L863.7,503.0 L864.5,502.7 L865.3,502.7 L866.1,503.0 L866.9,502.9 L867.7,502.6 L868.5,502.9 L869.3,502.8 L870.1,502.7 L870.9,502.7 L871.7,502.7 L872.5,502.6 L873.3,502.7 L874.1,502.7 L874.9,503.0 L875.7,502.6 L876.5,503.0 L877.3,502.7 L878.1,502.7 L878.9,502.9 L879.7,502.9 L880.5,502.8 L881.3,502.6 L882.1,502.8 L882.9,502.7 L883.7,503.0 L884.5,502.7 L885.3,502.7 L886.1,503.0 L886.9,502.6 L887.7,502.8 L888.5,502.9 L889.3,502.9 L890.1,502.6 L890.9,502.6 L891.7,502.6 L892.5,503.0 L893.3,502.7 L894.1,502.9 L894.9,503.0 L895.7,502.7 L896.5,502.7 L897.3,503.0 L898.1,502.8 L898.9,502.7 L899.7,502.9 L900.5,502.7 L901.3,502.7 L902.1,502.6 L902.9,502.9 L903.7,503.0 L904.5,502.9 L905.3,503.0 L906.1,502.6 L906.9,502.7 L907.7,502.8 L908.5,503.0 L909.3,503.0 L910.1,502.8 L910.9,502.7 L911.7,502.8 L912.5,502.8 L913.3,503.0 L914.1,502.7 L914.9,502.9 L915.7,502.9 L916.5,502.9 L917.3,502.9 L918.1,502.8 L918.9,502.7 L919.7,502.7 L920.5,502.7 L921.3,502.9 L922.1,502.6 L922.9,502.7 L923.7,502.9 L924.5,502.7 L925.3,502.6 L926.1,502.6 L926.9,502.8 L927.7,502.7 L928.5,503.0 L929.3,503.0 L930.1,503.0 L930.9,502.7 L931.7,502.6 L932.5,502.6 L933.3,502.8 L934.1,502.9 L934.9,502.8 L935.7,502.7 L936.5,502.8 L937.3,502.8 L938.1,502.9 L938.9,502.9 L939.7,502.9 L940.5,502.9 L941.3,502.6 L942.1,502.9 L942.9,502.7 L943.7,502.8 L944.5,502.7 L945.3,502.9 L946.1,502.7 L946.9,502.7 L947.7,502.7" fill="none" stroke="#1e8e3a" stroke-width="0.9" opacity="0.9"/>
<path d="M642.30,502.8 L642.60,467.1 L642.90,502.8 M645.60,502.8 L645.90,488.7 L646.20,502.8 M646.20,502.8 L646.50,489.0 L646.80,502.8 M630.00,502.8 L630.30,495.4 L630.60,502.8 M634.40,502.8 L634.70,498.0 L635.00,502.8 M640.00,502.8 L640.30,497.5 L640.60,502.8 M635.70,502.8 L636.00,499.0 L636.30,502.8 M626.70,502.8 L627.00,500.0 L627.30,502.8 M691.20,502.8 L691.50,416.2 L691.80,502.8 M691.70,502.8 L692.00,512.1 L692.30,502.8 M690.20,502.8 L690.50,466.8 L690.80,502.8 M690.70,502.8 L691.00,470.0 L691.30,502.8 M702.50,502.8 L702.80,479.3 L703.10,502.8 M703.20,502.8 L703.50,491.0 L703.80,502.8 M705.80,502.8 L706.10,497.5 L706.40,502.8 M681.70,502.8 L682.00,507.5 L682.30,502.8 M684.70,502.8 L685.00,506.0 L685.30,502.8 M686.70,502.8 L687.00,506.5 L687.30,502.8 M707.70,502.8 L708.00,509.0 L708.30,502.8 M709.70,502.8 L710.00,507.0 L710.30,502.8 M743.10,502.8 L743.40,498.7 L743.70,502.8 M657.70,502.8 L658.00,499.0 L658.30,502.8 M665.70,502.8 L666.00,500.5 L666.30,502.8 M784.70,502.8 L785.00,499.5 L785.30,502.8 M773.00,502.8 L773.30,505.5 L773.60,502.8 M807.70,502.8 L808.00,505.0 L808.30,502.8 M852.70,502.8 L853.00,504.5 L853.30,502.8 M654.70,502.8 L655.00,506.0 L655.30,502.8 M649.70,502.8 L650.00,505.0 L650.30,502.8" fill="none" stroke="#2f9a4a" stroke-width="0.65" opacity="0.75"/>
<path d="M609.5,645.1 L621.5,644.6 L622.3,645.3 L623.1,645.0 L623.9,644.7 L624.7,644.8 L625.5,645.4 L626.3,644.9 L627.1,644.6 L627.9,645.2 L628.7,645.1 L629.5,645.4 L630.3,644.5 L631.1,644.9 L631.9,645.2 L632.7,645.2 L633.5,645.3 L634.3,644.4 L635.1,644.7 L635.9,644.5 L636.7,644.6 L637.5,645.4 L638.3,645.0 L639.1,645.3 L639.9,644.8 L640.7,645.3 L641.5,644.8 L642.3,644.7 L643.1,645.2 L643.9,645.3 L644.7,644.5 L645.5,645.0 L646.3,645.0 L647.1,644.6 L647.9,644.8 L648.7,644.5 L649.5,644.6 L650.3,644.7 L651.1,645.0 L651.9,645.1 L652.7,644.6 L653.5,644.4 L654.3,644.7 L655.1,645.1 L655.9,644.6 L656.7,644.7 L657.5,644.6 L658.3,645.2 L659.1,644.9 L659.9,644.5 L660.7,644.5 L661.5,644.8 L662.3,645.0 L663.1,645.0 L663.9,644.5 L664.7,644.6 L665.5,645.1 L666.3,644.8 L667.1,644.7 L667.9,644.7 L668.7,645.4 L669.5,644.7 L670.3,645.0 L671.1,644.8 L671.9,644.8 L672.7,645.3 L673.5,645.4 L674.3,644.8 L675.1,644.6 L675.9,645.1 L676.7,644.6 L677.5,644.4 L678.3,645.3 L679.1,644.8 L679.9,645.2 L680.7,644.8 L681.5,645.3 L682.3,644.9 L683.1,644.6 L683.9,644.4 L684.7,645.0 L685.5,645.0 L686.3,645.3 L687.1,644.5 L687.9,645.0 L688.7,644.8 L689.5,644.9 L690.3,644.5 L691.1,644.7 L691.9,644.9 L692.7,645.3 L693.5,644.5 L694.3,644.9 L695.1,645.2 L695.9,645.4 L696.7,644.6 L697.5,644.5 L698.3,645.3 L699.1,645.4 L699.9,644.9 L700.7,644.5 L701.5,645.3 L702.3,644.8 L703.1,645.3 L703.9,645.0 L704.7,645.2 L705.5,644.6 L706.3,645.2 L707.1,644.6 L707.9,644.8 L708.7,645.2 L709.5,645.2 L710.3,644.6 L711.1,644.6 L711.9,644.8 L712.7,644.9 L713.5,644.8 L714.3,644.5 L715.1,644.6 L715.9,645.1 L716.7,645.3 L717.5,644.4 L718.3,645.0 L719.1,645.2 L719.9,644.4 L720.7,645.2 L721.5,644.5 L722.3,645.0 L723.1,644.9 L723.9,645.0 L724.7,644.7 L725.5,644.8 L726.3,645.0 L727.1,644.8 L727.9,645.0 L728.7,644.9 L729.5,644.8 L730.3,644.5 L731.1,645.0 L731.9,644.9 L732.7,644.7 L733.5,645.1 L734.3,645.1 L735.1,644.9 L735.9,644.6 L736.7,644.9 L737.5,644.6 L738.3,644.6 L739.1,644.8 L739.9,644.6 L740.7,644.9 L741.5,644.9 L742.3,644.5 L743.1,645.0 L743.9,644.6 L744.7,645.1 L745.5,645.1 L746.3,644.9 L747.1,644.6 L747.9,644.9 L748.7,644.8 L749.5,645.2 L750.3,644.6 L751.1,645.2 L751.9,645.3 L752.7,645.1 L753.5,645.1 L754.3,644.7 L755.1,645.2 L755.9,644.9 L756.7,645.2 L757.5,645.2 L758.3,644.7 L759.1,645.1 L759.9,645.2 L760.7,644.6 L761.5,644.8 L762.3,645.1 L763.1,644.7 L763.9,645.2 L764.7,644.8 L765.5,645.1 L766.3,644.7 L767.1,644.9 L767.9,645.2 L768.7,644.7 L769.5,644.8 L770.3,644.9 L771.1,644.8 L771.9,644.6 L772.7,644.7 L773.5,644.7 L774.3,645.1 L775.1,645.0 L775.9,645.1 L776.7,644.7 L777.5,645.0 L778.3,644.7 L779.1,644.9 L779.9,645.0 L780.7,644.8 L781.5,645.1 L782.3,644.9 L783.1,644.9 L783.9,645.1 L784.7,644.7 L785.5,645.1 L786.3,645.0 L787.1,644.9 L787.9,645.0 L788.7,644.8 L789.5,645.1 L790.3,644.9 L791.1,644.8 L791.9,645.0 L792.7,644.9 L793.5,644.8 L794.3,645.0 L795.1,644.7 L795.9,645.0 L796.7,644.8 L797.5,644.9 L798.3,645.1 L799.1,644.9 L799.9,645.0 L800.7,644.8 L801.5,644.7 L802.3,644.8 L803.1,644.8 L803.9,644.9 L804.7,644.9 L805.5,644.9 L806.3,645.0 L807.1,644.8 L807.9,644.8 L808.7,644.9 L809.5,644.8 L810.3,644.8 L811.1,644.9 L811.9,644.8 L812.7,644.9 L813.5,644.8 L814.3,644.9 L815.1,644.9 L815.9,644.8 L816.7,644.9 L817.5,644.9 L818.3,644.8 L819.1,645.0 L819.9,644.8 L820.7,644.8 L821.5,644.8 L822.3,644.9 L823.1,645.0 L823.9,645.0 L824.7,644.9 L825.5,644.8 L826.3,644.8 L827.1,644.9 L827.9,644.9 L828.7,644.9 L829.5,644.9 L830.3,644.9 L831.1,645.0 L831.9,645.0 L832.7,644.8 L833.5,645.0 L834.3,644.8 L835.1,644.9 L835.9,644.9 L836.7,644.8 L837.5,644.8 L838.3,645.0 L839.1,644.8 L839.9,644.9 L840.7,645.0 L841.5,644.8 L842.3,644.8 L843.1,644.9 L843.9,644.9 L844.7,644.9 L845.5,645.0 L846.3,644.8 L847.1,644.9 L847.9,644.9 L848.7,644.8 L849.5,645.0 L850.3,645.0 L851.1,645.0 L851.9,644.8 L852.7,645.0 L853.5,645.0 L854.3,644.9 L855.1,645.0 L855.9,644.9 L856.7,644.8 L857.5,644.8 L858.3,644.8 L859.1,644.8 L859.9,644.9 L860.7,645.0 L861.5,644.9 L862.3,645.0 L863.1,645.0 L863.9,644.8 L864.7,644.9 L865.5,644.9 L866.3,645.0 L867.1,644.9 L867.9,644.8 L868.7,644.9 L869.5,645.0 L870.3,644.8 L871.1,645.0 L871.9,644.8 L872.7,644.8 L873.5,644.8 L874.3,645.0 L875.1,645.0 L875.9,645.0 L876.7,644.9 L877.5,645.0 L878.3,644.9 L879.1,644.8 L879.9,645.0 L880.7,644.9 L881.5,644.9 L882.3,644.9 L883.1,645.0 L883.9,644.9 L884.7,645.0 L885.5,644.9 L886.3,645.0 L887.1,644.9 L887.9,645.0 L888.7,644.9 L889.5,644.9 L890.3,644.8 L891.1,644.9 L891.9,644.8 L892.7,645.0 L893.5,644.8 L894.3,644.8 L895.1,644.8 L895.9,645.0 L896.7,644.9 L897.5,644.8 L898.3,644.8 L899.1,644.8 L899.9,644.9 L900.7,644.9 L901.5,644.9 L902.3,645.0 L903.1,644.8 L903.9,644.9 L904.7,644.9 L905.5,645.0 L906.3,645.0 L907.1,645.0 L907.9,644.8 L908.7,645.0 L909.5,645.0 L910.3,645.0 L911.1,644.8 L911.9,644.8 L912.7,644.8 L913.5,644.8 L914.3,645.0 L915.1,645.0 L915.9,644.9 L916.7,645.0 L917.5,644.9 L918.3,644.8 L919.1,644.8 L919.9,644.8 L920.7,645.0 L921.5,644.8 L922.3,644.9 L923.1,644.9 L923.9,644.8 L924.7,644.8 L925.5,644.8 L926.3,645.0 L927.1,644.9 L927.9,644.9 L928.7,645.0 L929.5,644.9 L930.3,645.0 L931.1,644.9 L931.9,644.8 L932.7,644.9 L933.5,644.9 L934.3,645.0 L935.1,644.9 L935.9,645.0 L936.7,644.9 L937.5,644.8 L938.3,645.0 L939.1,644.8 L939.9,645.0 L940.7,644.8 L941.5,644.8 L942.3,644.8 L943.1,645.0 L943.9,645.0 L944.7,644.8 L945.5,644.9 L946.3,644.9 L947.1,645.0" fill="none" stroke="#f02020" stroke-width="0.9" opacity="0.85"/>
<path d="M691.20,645.1 L691.50,546.2 L691.80,645.1 M691.80,645.1 L692.10,584.0 L692.40,645.1 M690.70,645.1 L691.00,600.0 L691.30,645.1 M690.30,645.1 L690.60,610.0 L690.90,645.1 M642.20,645.1 L642.50,586.0 L642.80,645.1 M645.30,645.1 L645.60,590.9 L645.90,645.1 M646.10,645.1 L646.40,591.2 L646.70,645.1 M630.10,645.1 L630.40,620.3 L630.70,645.1 M630.70,645.1 L631.00,630.0 L631.30,645.1 M635.00,645.1 L635.30,628.0 L635.60,645.1 M634.20,645.1 L634.50,634.0 L634.80,645.1 M633.20,645.1 L633.50,636.0 L633.80,645.1 M640.00,645.1 L640.30,630.5 L640.60,645.1 M639.20,645.1 L639.50,634.0 L639.80,645.1 M654.50,645.1 L654.80,622.7 L655.10,645.1 M655.20,645.1 L655.50,624.0 L655.80,645.1 M651.40,645.1 L651.70,637.0 L652.00,645.1 M649.70,645.1 L650.00,640.0 L650.30,645.1 M648.20,645.1 L648.50,641.0 L648.80,645.1 M665.90,645.1 L666.20,636.5 L666.50,645.1 M666.70,645.1 L667.00,638.0 L667.30,645.1 M669.20,645.1 L669.50,640.0 L669.80,645.1 M675.70,645.1 L676.00,641.0 L676.30,645.1 M677.70,645.1 L678.00,640.0 L678.30,645.1 M682.30,645.1 L682.60,634.0 L682.90,645.1 M683.00,645.1 L683.30,635.0 L683.60,645.1 M685.20,645.1 L685.50,634.0 L685.80,645.1 M686.00,645.1 L686.30,636.5 L686.60,645.1 M687.70,645.1 L688.00,637.0 L688.30,645.1 M689.30,645.1 L689.60,632.0 L689.90,645.1 M694.80,645.1 L695.10,630.5 L695.40,645.1 M696.00,645.1 L696.30,635.5 L696.60,645.1 M698.70,645.1 L699.00,641.0 L699.30,645.1 M702.00,645.1 L702.30,620.8 L702.60,645.1 M702.70,645.1 L703.00,635.5 L703.30,645.1 M706.10,645.1 L706.40,633.0 L706.70,645.1 M706.90,645.1 L707.20,634.0 L707.50,645.1 M709.30,645.1 L709.60,627.5 L709.90,645.1 M710.50,645.1 L710.80,632.0 L711.10,645.1 M715.70,645.1 L716.00,641.5 L716.30,645.1 M732.90,645.1 L733.20,639.1 L733.50,645.1 M733.70,645.1 L734.00,639.5 L734.30,645.1 M735.70,645.1 L736.00,642.0 L736.30,645.1 M737.70,645.1 L738.00,642.5 L738.30,645.1 M743.10,645.1 L743.40,638.4 L743.70,645.1 M744.20,645.1 L744.50,641.5 L744.80,645.1 M748.70,645.1 L749.00,642.0 L749.30,645.1 M773.00,645.1 L773.30,633.6 L773.60,645.1 M773.60,645.1 L773.90,636.0 L774.20,645.1 M782.70,645.1 L783.00,643.0 L783.30,645.1 M784.70,645.1 L785.00,642.5 L785.30,645.1 M790.70,645.1 L791.00,643.0 L791.30,645.1 M801.90,645.1 L802.20,641.0 L802.50,645.1 M802.70,645.1 L803.00,641.5 L803.30,645.1 M807.90,645.1 L808.20,634.0 L808.50,645.1 M808.60,645.1 L808.90,634.2 L809.20,645.1 M839.70,645.1 L840.00,643.0 L840.30,645.1 M848.90,645.1 L849.20,639.0 L849.50,645.1 M850.20,645.1 L850.50,638.9 L850.80,645.1 M851.00,645.1 L851.30,642.0 L851.60,645.1 M853.00,645.1 L853.30,640.5 L853.60,645.1 M853.70,645.1 L854.00,641.0 L854.30,645.1 M869.70,645.1 L870.00,643.5 L870.30,645.1 M879.70,645.1 L880.00,643.8 L880.30,645.1 M622.70,645.1 L623.00,641.5 L623.30,645.1 M624.20,645.1 L624.50,640.0 L624.80,645.1 M625.20,645.1 L625.50,638.5 L625.80,645.1 M626.20,645.1 L626.50,639.5 L626.80,645.1 M627.20,645.1 L627.50,641.0 L627.80,645.1 M628.20,645.1 L628.50,637.0 L628.80,645.1 M629.00,645.1 L629.30,633.0 L629.60,645.1 M631.70,645.1 L632.00,636.0 L632.30,645.1 M636.20,645.1 L636.50,638.0 L636.80,645.1 M637.20,645.1 L637.50,640.0 L637.80,645.1 M638.20,645.1 L638.50,636.0 L638.80,645.1 M640.70,645.1 L641.00,637.0 L641.30,645.1 M643.70,645.1 L644.00,634.0 L644.30,645.1 M647.20,645.1 L647.50,641.0 L647.80,645.1 M656.20,645.1 L656.50,640.0 L656.80,645.1 M658.70,645.1 L659.00,641.5 L659.30,645.1 M660.70,645.1 L661.00,641.0 L661.30,645.1 M662.70,645.1 L663.00,640.5 L663.30,645.1 M671.70,645.1 L672.00,641.0 L672.30,645.1 M673.70,645.1 L674.00,640.0 L674.30,645.1 M679.70,645.1 L680.00,639.0 L680.30,645.1 M680.70,645.1 L681.00,641.0 L681.30,645.1 M683.70,645.1 L684.00,637.0 L684.30,645.1 M686.70,645.1 L687.00,639.0 L687.30,645.1 M693.20,645.1 L693.50,636.0 L693.80,645.1 M693.70,645.1 L694.00,640.0 L694.30,645.1 M697.20,645.1 L697.50,641.5 L697.80,645.1 M700.20,645.1 L700.50,640.0 L700.80,645.1 M704.20,645.1 L704.50,639.0 L704.80,645.1 M705.20,645.1 L705.50,641.0 L705.80,645.1 M711.70,645.1 L712.00,642.0 L712.30,645.1 M713.70,645.1 L714.00,641.5 L714.30,645.1 M719.70,645.1 L720.00,642.5 L720.30,645.1 M724.70,645.1 L725.00,643.0 L725.30,645.1" fill="none" stroke="#f02828" stroke-width="0.65" opacity="0.8"/>
<path d="M609.5,275.0 V402.3 H947.8 V275.0" fill="none" stroke="#2222dd" stroke-width="1.1"/>
<path d="M630.1,402.3 v-2 M651.2,402.3 v-3.2 M672.3,402.3 v-2 M693.4,402.3 v-3.2 M714.5,402.3 v-2 M735.7,402.3 v-3.2 M756.8,402.3 v-2 M777.9,402.3 v-3.2 M799.0,402.3 v-2 M820.1,402.3 v-3.2 M841.2,402.3 v-2 M862.3,402.3 v-3.2 M883.4,402.3 v-2 M904.6,402.3 v-3.2 M925.7,402.3 v-2 M946.8,402.3 v-3.2" fill="none" stroke="#2222dd" stroke-width="0.9"/>
<path d="M609.5,300.8 h3.2 M947.8,300.8 h-3.2 M609.5,316.2 h2 M947.8,316.2 h-2 M609.5,331.6 h3.2 M947.8,331.6 h-3.2 M609.5,347.2 h2 M947.8,347.2 h-2 M609.5,362.9 h3.2 M947.8,362.9 h-3.2 M609.5,378.4 h2 M947.8,378.4 h-2 M609.5,393.9 h3.2 M947.8,393.9 h-3.2" fill="none" stroke="#2222dd" stroke-width="0.9"/>
<path d="M609.5,285.2 h2 M947.8,285.2 h-2" stroke="#2222dd" stroke-width="0.9"/>
<path d="M609.5,404.1 V530.7 H947.8 V404.1" fill="none" stroke="#1e8e3a" stroke-width="1.1"/>
<path d="M630.1,530.7 v-2 M651.2,530.7 v-3.2 M672.3,530.7 v-2 M693.4,530.7 v-3.2 M714.5,530.7 v-2 M735.7,530.7 v-3.2 M756.8,530.7 v-2 M777.9,530.7 v-3.2 M799.0,530.7 v-2 M820.1,530.7 v-3.2 M841.2,530.7 v-2 M862.3,530.7 v-3.2 M883.4,530.7 v-2 M904.6,530.7 v-3.2 M925.7,530.7 v-2 M946.8,530.7 v-3.2" fill="none" stroke="#1e8e3a" stroke-width="0.9"/>
<path d="M609.5,437.0 h3.2 M947.8,437.0 h-3.2 M609.5,453.6 h2 M947.8,453.6 h-2 M609.5,470.2 h3.2 M947.8,470.2 h-3.2 M609.5,486.5 h2 M947.8,486.5 h-2 M609.5,502.8 h3.2 M947.8,502.8 h-3.2" fill="none" stroke="#1e8e3a" stroke-width="0.9"/>
<path d="M609.5,420.2 h2 M947.8,420.2 h-2 M609.5,519.4 h2 M947.8,519.4 h-2" stroke="#1e8e3a" stroke-width="0.9"/>
<path d="M609.5,531.5 V659.4 M947.8,531.5 V659.4" fill="none" stroke="#f02020" stroke-width="1.1"/>
<path d="M609.5,548.6 h3.2 M947.8,548.6 h-3.2 M609.5,564.8 h2 M947.8,564.8 h-2 M609.5,581.0 h3.2 M947.8,581.0 h-3.2 M609.5,597.0 h2 M947.8,597.0 h-2 M609.5,613.0 h3.2 M947.8,613.0 h-3.2 M609.5,629.0 h2 M947.8,629.0 h-2 M609.5,645.1 h3.2 M947.8,645.1 h-3.2" fill="none" stroke="#f02020" stroke-width="0.9"/>
<path d="M609.5,658.9 H947.8" fill="none" stroke="#f02020" stroke-width="1"/>
<path d="M609.5,659.9 H947.8" fill="none" stroke="#77778a" stroke-width="1"/>
<path d="M630.1,659.4 v-2 M651.2,659.4 v-3.2 M672.3,659.4 v-2 M693.4,659.4 v-3.2 M714.5,659.4 v-2 M735.7,659.4 v-3.2 M756.8,659.4 v-2 M777.9,659.4 v-3.2 M799.0,659.4 v-2 M820.1,659.4 v-3.2 M841.2,659.4 v-2 M862.3,659.4 v-3.2 M883.4,659.4 v-2 M904.6,659.4 v-3.2 M925.7,659.4 v-2 M946.8,659.4 v-3.2" fill="none" stroke="#333" stroke-width="0.9"/>
<g font-family="'Liberation Sans', sans-serif" font-weight="bold" font-size="7.2px" fill="#2222dd" text-anchor="end">
<text x="606.6" y="303.4">0.12</text>
<text x="606.6" y="334.2">0.00</text>
<text x="606.6" y="365.5">-0.12</text>
<text x="606.6" y="396.5">-0.24</text>
</g>
<g font-family="'Liberation Sans', sans-serif" font-weight="bold" font-size="7.2px" fill="#1e8e3a" text-anchor="end">
<text x="606.6" y="406.1">0.45</text>
<text x="606.6" y="439.6">0.30</text>
<text x="606.6" y="472.8">0.15</text>
<text x="606.6" y="505.4">0.00</text>
</g>
<g font-family="'Liberation Sans', sans-serif" font-weight="bold" font-size="7.2px" fill="#f02020" text-anchor="end">
<text x="605.6" y="551.2">78000</text>
<text x="605.6" y="583.6">52000</text>
<text x="605.6" y="615.6">26000</text>
<text x="605.6" y="647.7">0</text>
</g>
<defs><clipPath id="xlab"><rect x="600" y="660" width="354.8" height="32"/></clipPath></defs>
<g font-family="'Liberation Sans', sans-serif" font-weight="bold" font-size="9px" fill="#111" text-anchor="middle" clip-path="url(#xlab)">
<text x="651.2" y="670.9">300</text>
<text x="693.4" y="670.9">400</text>
<text x="735.7" y="670.9">500</text>
<text x="777.9" y="670.9">600</text>
<text x="820.1" y="670.9">700</text>
<text x="862.3" y="670.9">800</text>
<text x="904.6" y="670.9">900</text>
<text x="946.8" y="670.9">1000</text>
</g>
<text x="779" y="689" text-anchor="middle" font-family="'Liberation Sans', sans-serif" font-weight="bold" font-size="12.5px" fill="#111">Wavelength (nm)</text>
<text transform="translate(579.2,329.5) rotate(-90)" text-anchor="middle" font-family="'Liberation Sans', sans-serif" font-weight="bold" font-size="12.5px" fill="#2222dd">Loadings (PC2)</text>
<text transform="translate(579.2,458) rotate(-90)" text-anchor="middle" font-family="'Liberation Sans', sans-serif" font-weight="bold" font-size="12.5px" fill="#1e8e3a">Loadings (PC1)</text>
<text transform="translate(579.0,585.8) rotate(-90)" text-anchor="middle" font-family="'Liberation Sans', sans-serif" font-weight="bold" font-size="12.5px" fill="#f02020">Int (a.u.)</text>
<rect x="609.5" y="275" width="77.2" height="14" fill="#fff" stroke="#8a8a8a" stroke-width="1"/>
<path d="M611.8,282.3 H629.2" stroke="#5a5ae6" stroke-width="0.9"/>
<text x="633.6" y="285.6" font-family="'Liberation Sans', sans-serif" font-weight="bold" font-size="10.3px" fill="#2222dd">PC2 (18%)</text>
<rect x="609.5" y="403.5" width="79.2" height="13.4" fill="#fff" stroke="#8a8a8a" stroke-width="1"/>
<path d="M611.8,410.8 H633" stroke="#5ab070" stroke-width="0.9"/>
<text x="637.4" y="414" font-family="'Liberation Sans', sans-serif" font-weight="bold" font-size="10.3px" fill="#1e8e3a">PC1 (73%)</text>
<rect x="695.4" y="417.3" width="244.4" height="48.7" fill="#fff" stroke="#333" stroke-width="1"/>
<g font-family="'Liberation Serif', serif" font-weight="bold" font-style="italic" font-size="19.3px" fill="#000" text-anchor="middle">
<text x="817.6" y="437.4">Analytical spectral-dependent</text>
<text x="817.6" y="459.7">truncation</text>
</g>
<!-- arrows -->
<polygon points="456,125.2 490.6,125.2 490.6,106 529.4,136.1 490.6,166.8 490.6,147 456,147" fill="#dbdbdb" stroke="#000" stroke-width="1.8" stroke-linejoin="miter"/>
<polygon points="739.8,232.5 761,232.5 761,267.4 781,267.4 750.5,305.8 720,267.4 739.8,267.4" fill="#dbdbdb" stroke="#000" stroke-width="1.8" stroke-linejoin="miter"/>
<polygon points="529,454.5 495,454.5 495,434.6 456.1,465.2 495,495.8 495,476 529,476" fill="#dbdbdb" stroke="#000" stroke-width="1.8" stroke-linejoin="miter"/>
</svg>
</body></html>
